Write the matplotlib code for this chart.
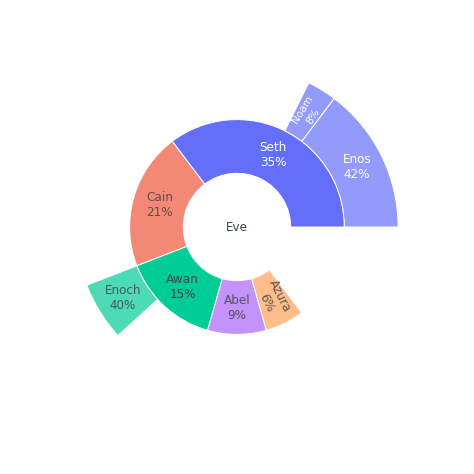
import numpy as np
import matplotlib
matplotlib.use("Agg")
import matplotlib.pyplot as plt
from matplotlib.patches import Wedge
from matplotlib.colors import to_rgb

plt.rcParams["font.family"] = ["DejaVu Sans"]

# family tree data (branchvalues = remainder)
labels = ["Eve", "Cain", "Seth", "Enos", "Noam", "Abel", "Awan", "Enoch", "Azura"]
parents = ["", "Eve", "Eve", "Seth", "Seth", "Eve", "Eve", "Awan", "Eve"]
values = [10, 14, 12, 10, 2, 6, 6, 4, 4]

colorway = ["#636efa", "#EF553B", "#00cc96", "#ab63fa", "#FFA15A"]

PX = 72 / 100  # points per pixel at dpi 100
CX, CY = 237, 227  # centre of the sunburst in pixels
RING = 53.7  # ring width in pixels
LEAF_ALPHA = 0.7

children = {l: [c for c, p in zip(labels, parents) if p == l] for l in labels}
own = dict(zip(labels, values))


def total(n):
    return own[n] + sum(total(c) for c in children[n])


def blend(col, a):
    r, g, b = to_rgb(col)
    return (1 - a + a * r, 1 - a + a * g, 1 - a + a * b)


def is_dark(col):
    r, g, b = to_rgb(col)
    return (0.299 * r + 0.587 * g + 0.114 * b) < 0.5


fig = plt.figure(figsize=(4.74, 4.74), dpi=100)
ax = fig.add_axes([0, 0, 1, 1])
ax.set_xlim(-CX, 474 - CX)
ax.set_ylim(-(474 - CY), CY)
ax.set_aspect("equal")
ax.axis("off")

root = labels[parents.index("")]
ax.text(0, 0, root, ha="center", va="center", fontsize=12 * PX, color="#3b4456")


def draw(node, start, span, depth, color):
    kids = sorted(children[node], key=total, reverse=True)
    ntot = total(node)
    a = start
    for i, k in enumerate(kids):
        ksp = span * total(k) / ntot
        kcol = colorway[i % len(colorway)] if depth == 1 else color
        leaf = len(children[k]) == 0
        alpha = LEAF_ALPHA if leaf else 1.0
        r_out = RING * (depth + 1)
        ax.add_patch(Wedge((0, 0), r_out, a, a + ksp, width=RING,
                           facecolor=blend(kcol, alpha), edgecolor="white",
                           linewidth=1 * PX))
        # label
        mid = np.radians(a + ksp / 2)
        rm = r_out - RING / 2
        arc = rm * np.radians(ksp)
        pct = 100 * total(k) / ntot
        txt = f"{k}\n{pct:.0f}%"
        if is_dark(kcol):
            tcol, talpha = "white", 1.0
        else:
            tcol, talpha = "#444", (0.85 if leaf else 1.0)
        if arc < 40:
            fs = min(12, arc / 2.4)
            rot = np.degrees(mid)
            if rot > 90:
                rot -= 360
            ax.text(rm * np.cos(mid), rm * np.sin(mid), txt, ha="center",
                    va="center", rotation=rot, rotation_mode="anchor",
                    fontsize=fs * PX, color=tcol, alpha=talpha,
                    linespacing=1.2)
        else:
            ax.text(rm * np.cos(mid), rm * np.sin(mid), txt, ha="center",
                    va="center", fontsize=12 * PX, color=tcol, alpha=talpha,
                    linespacing=1.2)
        draw(k, a, ksp, depth + 1, kcol)
        a += ksp


draw(root, 0, 360, 1, None)

fig.savefig("out.png", dpi=100, facecolor="white")
